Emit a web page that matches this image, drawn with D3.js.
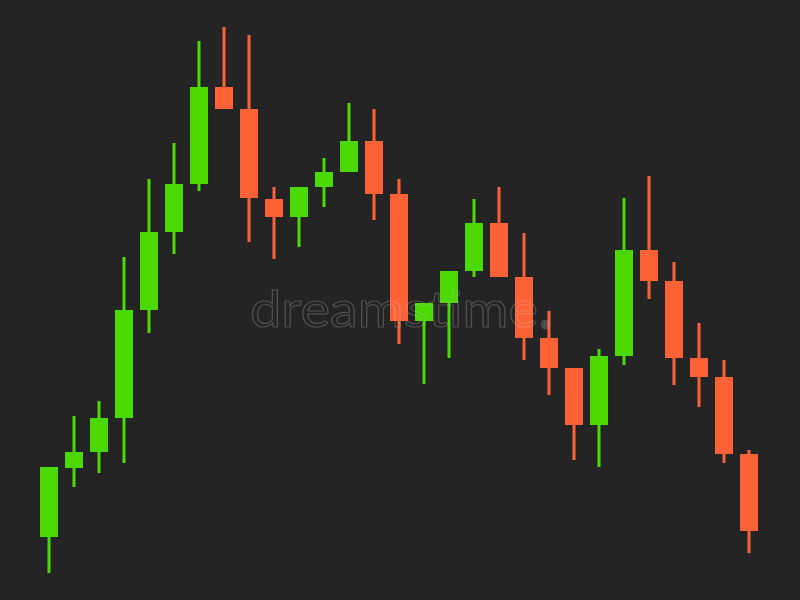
<!DOCTYPE html>
<html><head><meta charset="utf-8">
<script src="https://cdn.jsdelivr.net/npm/d3@7"></script>
<style>html,body{margin:0;padding:0;background:#242424;}svg{display:block;}</style>
</head><body>
<svg id="chart" width="800" height="600"></svg>
<script>
const days = d3.range(1, 30).map(d => "D" + d);
const open  = [12.6,26.4,29.6,36.4,58.0,73.6,83.2,102.6,98.2,80.2,76.6,82.6,85.6,91.8,81.2,55.8,59.4,65.8,75.4,64.6,52.4,46.4,35.0,48.8,70.0,63.8,48.4,44.6,29.2];
const close = [26.6,29.6,36.4,58.0,73.6,83.2,102.6,98.2,80.4,76.6,82.6,85.6,91.8,81.2,55.8,59.4,65.8,75.4,64.6,52.4,46.4,35.0,48.8,70.0,63.8,48.4,44.6,29.2,13.8];
const high  = [26.6,36.8,39.8,68.6,84.2,91.4,111.8,114.6,113.0,82.6,82.6,88.4,99.4,98.2,84.2,59.4,65.8,80.2,82.6,73.4,57.8,46.4,50.2,80.4,84.8,67.6,55.4,48.0,30.0];
const low   = [5.4,22.6,25.4,27.4,53.4,69.2,81.8,98.2,71.6,68.2,70.6,78.6,85.6,76.0,51.2,43.2,48.4,64.6,64.6,48.0,41.0,28.0,26.6,47.0,60.2,43.0,38.6,27.4,9.4];

const data = days.map((d, i) => ({day: d, o: open[i], c: close[i], h: high[i], l: low[i]}));
const svg = d3.select("#chart");
const W = 800, H = 600;
svg.append("rect").attr("width", W).attr("height", H).attr("fill", "#242424");

const x = d3.scalePoint().domain(days).range([49, 749]);
const y = d3.scaleLinear().domain([0, 120]).range([600, 0]);
const green = "#4cd900", red = "#ff6236";
const bw = 18;

const g = svg.append("g");
const cand = g.selectAll("g.c").data(data).join("g").attr("class", "c");
cand.append("rect")
  .attr("x", d => x(d.day) - 1.5).attr("width", 3)
  .attr("y", d => y(d.h)).attr("height", d => y(d.l) - y(d.h))
  .attr("fill", d => d.c >= d.o ? green : red);
cand.append("rect")
  .attr("x", d => x(d.day) - bw / 2).attr("width", bw)
  .attr("y", d => y(Math.max(d.o, d.c))).attr("height", d => Math.max(1, Math.abs(y(d.o) - y(d.c))))
  .attr("fill", d => d.c >= d.o ? green : red);

// faint outlined watermark over the marks
const wm = svg.append("g").attr("fill", "none").attr("stroke", "rgba(190,190,190,0.28)").attr("stroke-width", 1.2)
  .attr("font-family", "Lato, 'Open Sans', sans-serif");
wm.append("text").attr("x", 250).attr("y", 327)
  .attr("font-size", 50).attr("font-weight", 400)
  .attr("textLength", 288).attr("lengthAdjust", "spacingAndGlyphs")
  .text("dreamstime");
wm.append("text").attr("x", 541).attr("y", 329).attr("font-size", 11).text("®");
</script>
</body></html>
